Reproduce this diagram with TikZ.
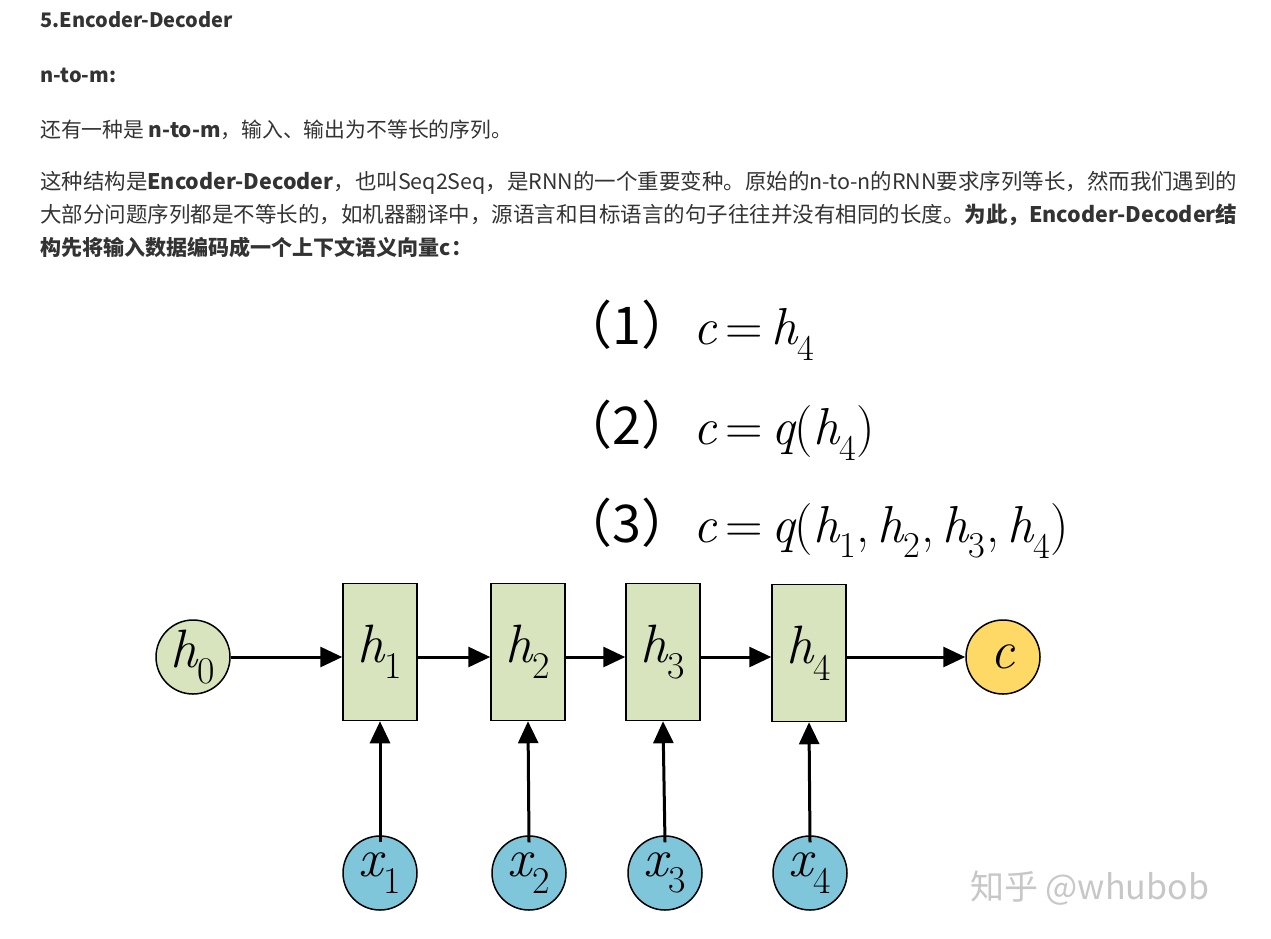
\documentclass[tikz,border=0pt]{standalone}
\usepackage{fontspec}
\setmainfont{Noto Sans CJK SC}
\newfontfamily\lmr{Latin Modern Roman}
\newcommand\vi[1]{{\lmr\itshape #1}}
\newcommand\vs[2]{{\lmr\itshape #1}\textsubscript{\lmr #2}}
\newcommand\up[1]{{\lmr #1}}
\usetikzlibrary{arrows.meta}
\definecolor{txt}{HTML}{333333}
\definecolor{gfill}{HTML}{D7E4BD}
\definecolor{bfill}{HTML}{7FC6DA}
\definecolor{yfill}{HTML}{FFD966}
\tikzset{
  para/.style={anchor=west,inner sep=0,text=txt,font=\fontsize{20}{20}\selectfont},
  hbox/.style={draw,line width=1.5pt,fill=gfill,minimum width=74pt,minimum height=137pt,inner sep=0,font=\fontsize{54}{54}\selectfont},
  circ/.style={draw,line width=1.5pt,circle,minimum size=74pt,inner sep=0,font=\fontsize{54}{54}\selectfont},
  eq/.style={anchor=west,inner sep=0,font=\fontsize{52}{52}\selectfont},
  arr/.style={line width=3pt,-{Triangle[length=22pt,width=20pt]}}
}
\begin{document}
\begin{tikzpicture}[x=1pt,y=-1pt]
\useasboundingbox (0,0) rectangle (1271,938);
\node[para,font=\fontsize{20}{20}\selectfont\bfseries] (t1) at (40,20) {5.Encoder-Decoder};
\node[para,font=\fontsize{20}{20}\selectfont\bfseries] (t2) at (40,75) {n-to-m:};
\node[para] (t3) at (40,130) {\resizebox{472pt}{!}{还有一种是 \textbf{n-to-m}，输入、输出为不等长的序列。}};
\node[para] (t4) at (40,183) {\resizebox{1197pt}{!}{这种结构是\textbf{Encoder-Decoder}，也叫Seq2Seq，是RNN的一个重要变种。原始的n-to-n的RNN要求序列等长，然而我们遇到的}};
\node[para] (t5) at (40,215) {\resizebox{1197pt}{!}{大部分问题序列都是不等长的，如机器翻译中，源语言和目标语言的句子往往并没有相同的长度。\textbf{为此，Encoder-Decoder结}}};
\node[para] (t6) at (40,247) {\resizebox{432pt}{!}{\textbf{构先将输入数据编码成一个上下文语义向量c：}}};

\node[eq] (e1) at (560,330) {（1）\vi{c}\,\up{=}\,\vs{h}{4}};
\node[eq] (e2) at (560,430) {（2）\vi{c}\,\up{=}\,\vi{q}\up{(}\vs{h}{4}\up{)}};
\node[eq] (e3) at (560,528) {（3）\vi{c}\,\up{=}\,\vi{q}\up{(}\vs{h}{1}\up{,}\,\vs{h}{2}\up{,}\,\vs{h}{3}\up{,}\,\vs{h}{4}\up{)}};

\node[circ,fill=gfill] (h0) at (193,657) {\vs{h}{0}};
\node[hbox] (h1) at (380,652) {\vs{h}{1}};
\node[hbox] (h2) at (528,652) {\vs{h}{2}};
\node[hbox] (h3) at (663,652) {\vs{h}{3}};
\node[hbox] (h4) at (809,653) {\vs{h}{4}};
\node[circ,fill=yfill] (c) at (1003,657) {\vi{c}};
\node[circ,fill=bfill] (x1) at (380,873) {\vs{x}{1}};
\node[circ,fill=bfill] (x2) at (529,873) {\vs{x}{2}};
\node[circ,fill=bfill] (x3) at (665,873) {\vs{x}{3}};
\node[circ,fill=bfill] (x4) at (810,873) {\vs{x}{4}};
\draw[arr] (h0.east) -- (h1.west|-h0.east);
\draw[arr] (h1.east|-h0.east) -- (h2.west|-h0.east);
\draw[arr] (h2.east|-h0.east) -- (h3.west|-h0.east);
\draw[arr] (h3.east|-h0.east) -- (h4.west|-h0.east);
\draw[arr] (h4.east|-h0.east) -- (c.west);
\foreach \i in {1,2,3,4} \draw[arr] ([yshift=-7pt]x\i.north) -- (h\i.south);
\node[anchor=west,inner sep=0,text=black!22,font=\fontsize{34}{34}\selectfont] (wm) at (970,888) {知乎 @whubob};
\end{tikzpicture}
\end{document}
